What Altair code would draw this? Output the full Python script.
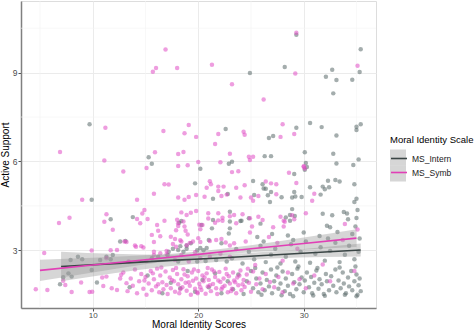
import altair as alt
import pandas as pd

groups = ["MS_Intern", "MS_Symb"]
x_ticks = [10, 20, 30]
y_ticks = [3, 6, 9]
minor_x = [5, 15, 25, 35]
minor_y = [4.5, 7.5, 10.5]

# MS_Symb observations (Moral Identity Score, Active Support)
symb_points = [
    (16.9, 9.78), (16.0, 9.16), (15.7, 9.03), (18.0, 9.16), (21.3, 9.27), (23.2, 8.61), (11.2, 7.14),
    (16.7, 7.03), (19.1, 7.23), (18.7, 6.95), (19.8, 6.83), (21.9, 6.93), (21.6, 6.59), (6.9, 6.32),
    (15.9, 6.31), (18.1, 6.25), (18.6, 6.32), (23.0, 6.26), (11.1, 6.03), (20.0, 5.98), (22.1, 5.97),
    (15.1, 5.78), (18.1, 5.85), (19.0, 5.87), (29.3, 10.35), (29.2, 8.97), (35.1, 9.23), (26.2, 8.09),
    (24.3, 7.0), (24.4, 6.9), (28.0, 7.26), (27.8, 6.83), (29.1, 6.93), (24.8, 6.16), (25.2, 6.16),
    (30.0, 5.82), (24.9, 6.05), (12.9, 5.66), (9.0, 4.71), (6.8, 3.92), (7.8, 4.10), (11.3, 4.22),
    (11.1, 3.96), (11.9, 3.69), (13.0, 3.30), (13.2, 3.28), (5.4, 2.91), (12.3, 3.01), (9.9, 2.99),
    (23.2, 5.64), (23.8, 5.67), (16.8, 5.23), (17.2, 5.22), (21.1, 5.33), (21.2, 5.23), (20.8, 5.11),
    (21.9, 5.15), (21.9, 5.0), (22.4, 5.15), (22.7, 4.88), (22.2, 4.83), (23.6, 5.11), (15.8, 4.91),
    (14.2, 4.71), (18.7, 4.71), (19.1, 4.80), (19.8, 4.87), (20.6, 4.81), (24.0, 4.78), (24.4, 5.2),
    (14.9, 4.36), (14.7, 4.24), (15.2, 4.06), (16.8, 4.0), (16.1, 3.85), (18.4, 4.28), (18.9, 4.19),
    (19.3, 4.27), (19.8, 4.33), (18.0, 4.03), (20.95, 4.25), (20.95, 4.07), (21.9, 4.25), (22.3, 4.10),
    (21.6, 3.93), (23.6, 3.91), (24.2, 4.22), (18.1, 3.82), (18.7, 3.80), (20.1, 3.86),
    (28.6, 5.62), (30.0, 5.84), (30.1, 5.76), (26.4, 5.32), (26.9, 5.26), (27.4, 5.23), (29.3, 5.27),
    (25.0, 4.78), (25.2, 4.67), (25.7, 4.83), (27.4, 4.89), (31.0, 4.91), (30.8, 4.67), (25.7, 4.13),
    (26.1, 4.02), (27.8, 4.13), (28.1, 4.0), (28.9, 4.18), (29.1, 4.05), (28.2, 3.96), (30.2, 4.25),
    (24.9, 4.08), (25.1, 3.80), (27.1, 3.78), (28.1, 3.80), (33.9, 3.89),
    (18.1, 4.78), (14.2, 4.06), (14.5, 3.91), (18.1, 3.91), (18.6, 3.97), (17.9, 3.68), (18.8, 3.66),
    (19.0, 3.53), (20.2, 3.71), (20.4, 3.85), (21.9, 4.01), (22.3, 4.0), (23.0, 4.15), (23.4, 4.19),
    (16.2, 3.66), (15.6, 3.52), (16.4, 3.47), (17.4, 3.46), (17.8, 3.38), (18.3, 3.34), (15.8, 3.28),
    (14.0, 3.16), (14.6, 3.14), (17.6, 3.21), (17.9, 3.12), (18.4, 3.30), (18.9, 3.17), (19.2, 3.25),
    (19.5, 3.30), (20.0, 3.41), (20.2, 3.28), (21.1, 3.31), (21.7, 3.35), (22.2, 3.38), (22.6, 3.26),
    (23.0, 3.16), (23.4, 3.24), (11.7, 3.0), (15.8, 2.84), (16.4, 2.90), (17.0, 2.87),
    (11.3, 2.73), (14.1, 3.12), (14.8, 3.09), (15.8, 2.95), (17.0, 2.98), (18.4, 2.84), (19.7, 2.93),
    (20.2, 2.73), (21.1, 2.78), (22.1, 2.88), (23.0, 2.78), (19.1, 2.62), (17.8, 2.67), (13.4, 2.62),
    (15.1, 2.64), (4.6, 1.68), (5.7, 1.66), (8.0, 1.59), (9.7, 1.59), (9.95, 1.60), (7.4, 1.83),
    (8.9, 1.91), (11.0, 1.79), (11.3, 2.11), (11.8, 1.72), (12.6, 2.05), (13.2, 1.89), (12.3, 1.66),
    (12.7, 2.17), (7.2, 1.97), (10.9, 2.08),
    (24.5, 3.30), (25.4, 2.50), (26.7, 3.45), (28.0, 2.65), (29.4, 3.05), (31.8, 2.52), (33.7, 3.35),
    (35.1, 3.70), (24.9, 3.60), (27.5, 3.25),
    (12.9, 2.25), (13.3, 1.62), (13.6, 2.05), (13.8, 1.80), (14.0, 2.35), (14.2, 1.55), (14.4, 1.95),
    (14.6, 2.20), (14.8, 1.70), (15.0, 2.10), (15.1, 1.50), (15.3, 1.88), (15.5, 2.30), (15.6, 1.65),
    (15.8, 2.02), (16.0, 1.78), (16.1, 2.38), (16.3, 1.58), (16.4, 2.15), (16.6, 1.92), (16.7, 1.68),
    (16.9, 2.28), (17.0, 1.83), (17.1, 1.52), (17.3, 2.08), (17.4, 1.72), (17.6, 2.33), (17.7, 1.95),
    (17.8, 1.60), (18.0, 2.20), (18.1, 1.85), (18.2, 1.55), (18.4, 2.02), (18.5, 1.75), (18.6, 2.36),
    (18.8, 1.90), (18.9, 1.63), (19.0, 2.12), (19.2, 1.80), (19.3, 1.50), (19.4, 2.25), (19.5, 1.97),
    (19.7, 1.70), (19.8, 2.05), (19.9, 1.58), (20.0, 2.30), (20.1, 1.87), (20.3, 1.66), (20.4, 2.15),
    (20.5, 1.95), (20.7, 1.53), (20.8, 2.22), (20.9, 1.78), (21.0, 2.00), (21.2, 1.62), (21.3, 2.35),
    (21.4, 1.86), (21.6, 2.10), (21.7, 1.72), (21.8, 1.52), (22.0, 2.27), (22.1, 1.93), (22.2, 1.68),
    (22.4, 2.05), (22.5, 1.80), (22.6, 2.38), (22.8, 1.58), (22.9, 2.12), (23.0, 1.88), (23.2, 1.70),
    (23.3, 2.25), (23.4, 1.98), (23.6, 1.55), (23.7, 2.08), (23.8, 1.82), (24.0, 2.32), (24.1, 1.65),
    (24.3, 2.00), (24.4, 1.76), (24.6, 2.18), (24.8, 1.90), (25.0, 1.60), (25.2, 2.28), (25.5, 1.85),
    (25.8, 2.05), (26.1, 1.68), (26.4, 2.20), (26.8, 1.93), (27.2, 1.75), (27.6, 2.10), (28.0, 1.58),
    (28.5, 2.25), (29.0, 1.88), (29.6, 2.02), (30.2, 1.72), (31.0, 2.15), (32.5, 1.95), (34.8, 2.30),
    (14.9, 1.98), (15.7, 2.22), (16.2, 1.85), (17.5, 2.00), (18.3, 1.68), (18.7, 2.18), (19.1, 1.92),
    (19.6, 2.35), (20.2, 1.75), (20.6, 2.08), (21.1, 1.82), (21.5, 2.28), (21.9, 1.98), (22.3, 1.75),
    (22.7, 2.20), (23.1, 1.62), (23.5, 1.92), (23.9, 2.15), (24.2, 1.85), (24.7, 2.38), (19.95, 1.55),
    (20.9, 2.40), (17.9, 2.40), (16.5, 2.42),
]

# MS_Intern observations
intern_points = [
    (9.7, 7.26), (22.6, 7.10), (15.3, 6.14), (15.6, 5.92), (22.9, 5.92), (23.2, 5.99), (20.2, 5.75),
    (29.3, 10.28), (35.4, 9.79), (24.9, 8.99), (28.2, 9.19), (32.7, 9.10), (32.1, 8.86), (33.1, 8.75),
    (34.6, 8.76), (35.3, 9.02), (32.8, 8.3), (29.3, 7.14), (30.6, 7.30), (31.7, 7.16), (35.0, 7.17),
    (35.0, 7.06), (35.4, 7.26), (33.1, 6.88), (26.7, 6.79), (27.1, 6.86), (26.3, 6.18), (26.9, 6.18),
    (30.1, 6.31), (32.8, 6.26), (35.2, 6.07), (33.1, 5.93), (34.7, 5.88), (30.2, 5.95),
    (9.9, 4.71), (11.7, 4.05), (12.6, 3.30), (7.9, 2.67), (8.6, 2.78), (9.0, 2.70), (10.7, 2.67),
    (11.3, 2.78), (11.7, 2.70), (9.9, 2.33), (7.7, 2.22), (8.0, 2.11), (7.2, 2.09), (6.9, 1.85),
    (10.4, 1.91), (19.7, 5.26), (21.4, 4.74), (22.8, 4.90), (23.0, 4.30), (13.8, 4.12), (20.3, 3.85),
    (24.0, 3.99), (24.8, 4.08), (18.2, 3.93), (30.3, 5.81), (30.1, 5.72), (29.1, 5.58), (25.2, 5.34),
    (26.1, 5.23), (26.2, 5.09), (26.4, 5.08), (32.3, 5.35), (33.0, 5.37), (33.4, 5.32), (31.8, 5.15),
    (32.4, 5.13), (32.0, 5.06), (34.8, 5.23), (30.6, 5.13), (29.1, 4.97), (27.9, 4.79), (28.9, 4.78),
    (29.2, 4.82), (29.8, 4.80), (25.3, 4.87), (26.9, 4.97), (26.6, 4.86), (26.8, 4.63), (31.6, 4.88),
    (35.0, 4.74), (34.8, 4.63), (28.9, 4.39), (28.7, 4.19), (29.15, 4.16), (28.3, 4.11), (31.8, 4.23),
    (32.7, 4.18), (33.8, 4.29), (34.1, 4.24), (34.2, 4.05), (35.1, 4.36), (35.0, 4.09), (24.1, 4.0),
    (25.9, 3.90), (28.7, 4.0), (32.2, 3.83), (32.5, 3.78), (34.9, 3.80), (23.0, 3.97), (18.4, 3.99),
    (21.0, 3.35), (19.3, 3.24), (20.2, 3.08), (20.8, 3.08), (17.1, 2.84), (18.1, 3.01), (18.3, 3.14),
    (18.9, 3.05), (17.6, 3.05), (22.2, 3.24), (22.9, 3.57), (23.0, 3.74), (21.4, 4.02), (21.3, 3.74),
    (13.1, 3.31), (18.9, 3.16), (17.2, 2.95), (18.6, 2.95), (19.9, 3.0), (20.5, 3.0), (15.6, 2.73),
    (16.2, 2.78), (18.1, 2.62), (19.9, 2.62), (20.7, 2.64), (21.7, 2.67), (22.7, 2.62), (23.2, 2.73),
    (23.6, 3.04), (11.9, 2.84),
    (24.2, 2.55), (24.8, 2.95), (25.3, 2.70), (25.9, 3.15), (26.4, 2.60), (26.9, 2.85), (27.3, 3.05),
    (27.8, 2.55), (28.3, 2.78), (28.8, 3.20), (29.2, 2.62), (29.7, 2.95), (30.2, 3.30), (30.6, 2.58),
    (31.1, 2.88), (31.6, 3.10), (32.0, 2.65), (32.5, 2.98), (33.0, 3.25), (33.4, 2.60), (33.9, 2.85),
    (34.3, 3.15), (34.8, 2.70), (35.2, 2.95), (35.3, 3.40), (25.6, 3.45), (27.0, 3.55), (28.5, 3.50),
    (30.0, 3.60), (31.5, 3.48), (33.2, 3.62), (34.6, 3.55), (26.2, 3.30), (29.0, 3.35), (32.3, 3.40),
    (13.5, 1.75), (15.2, 2.15), (16.6, 1.55), (17.4, 1.90),
    (18.3, 1.72), (19.0, 2.30), (19.7, 1.60), (20.4, 2.00), (21.0, 1.75), (21.6, 2.22), (22.2, 1.55),
    (22.8, 1.95), (23.3, 1.68), (23.8, 2.18), (24.3, 1.52), (24.6, 1.95), (25.0, 2.30), (25.2, 1.72),
    (25.5, 2.05), (25.7, 1.58), (25.9, 1.88), (26.1, 2.25), (26.3, 1.65), (26.5, 2.00), (26.7, 1.78),
    (26.9, 2.35), (27.0, 1.55), (27.2, 1.95), (27.4, 2.15), (27.6, 1.70), (27.8, 1.88), (28.0, 2.28),
    (28.2, 1.62), (28.3, 2.05), (28.5, 1.80), (28.7, 1.52), (28.9, 2.20), (29.1, 1.92), (29.3, 1.68),
    (29.4, 2.38), (29.6, 1.85), (29.8, 2.08), (30.0, 1.58), (30.1, 1.98), (30.3, 2.25), (30.5, 1.75),
    (30.7, 2.10), (30.8, 1.55), (31.0, 1.90), (31.2, 2.32), (31.4, 1.70), (31.5, 2.02), (31.7, 1.85),
    (31.9, 1.52), (32.1, 2.20), (32.2, 1.95), (32.4, 1.65), (32.6, 2.12), (32.8, 1.80), (33.0, 2.35),
    (33.1, 1.58), (33.3, 1.98), (33.5, 1.72), (33.7, 2.25), (33.8, 1.88), (34.0, 1.55), (34.2, 2.08),
    (34.3, 1.78), (34.5, 2.30), (34.6, 1.65), (34.8, 1.95), (35.0, 2.18), (35.1, 1.50), (35.2, 1.82),
    (35.3, 2.05), (35.4, 1.62), (26.0, 1.50), (27.9, 1.48), (29.0, 1.45), (30.9, 1.47), (32.0, 1.46),
    (33.9, 1.50), (35.0, 1.45), (25.4, 2.40), (27.5, 2.42), (29.5, 2.45), (31.3, 2.40), (33.4, 2.42),
    (34.9, 2.45),
]

# Fitted lines with 95% confidence bands
intern_fit_x = [7, 12, 17, 22, 27, 32, 35.4]
intern_fit_y = [2.45, 2.55, 2.65, 2.74, 2.84, 2.94, 3.01]
intern_lo = [1.95, 2.22, 2.45, 2.61, 2.72, 2.77, 2.79]
intern_hi = [2.95, 2.88, 2.85, 2.87, 2.96, 3.11, 3.23]

symb_fit_x = [5, 10, 15, 20, 25, 30, 35]
symb_fit_y = [2.32, 2.50, 2.68, 2.86, 3.05, 3.23, 3.41]
symb_lo = [1.96, 2.25, 2.53, 2.76, 2.93, 3.03, 3.11]
symb_hi = [2.68, 2.75, 2.83, 2.96, 3.17, 3.43, 3.71]

pts = pd.DataFrame(
    [{"x": x, "y": y, "g": "MS_Intern"} for x, y in intern_points]
    + [{"x": x, "y": y, "g": "MS_Symb"} for x, y in symb_points]
)
fit = pd.DataFrame(
    [{"x": a, "y": b, "lo": c, "hi": d, "g": "MS_Intern"}
     for a, b, c, d in zip(intern_fit_x, intern_fit_y, intern_lo, intern_hi)]
    + [{"x": a, "y": b, "lo": c, "hi": d, "g": "MS_Symb"}
       for a, b, c, d in zip(symb_fit_x, symb_fit_y, symb_lo, symb_hi)]
)

FONT = "Liberation Sans"
xs = alt.Scale(domain=[3.2, 36.85], nice=False, zero=False)
ys = alt.Scale(domain=[1.05, 11.42], nice=False, zero=False)

x_axis = alt.Axis(values=x_ticks, title="Moral Identity Scores", grid=True, gridColor="#ebebeb",
                  labelFont=FONT, labelFontSize=8, labelColor="#4d4d4d", tickColor="#4d4d4d",
                  tickSize=3, labelPadding=0, titleFont=FONT, titleFontSize=10,
                  titleFontWeight="normal", titleColor="#000", titlePadding=0,
                  domainColor="#808080", domainWidth=1.5)
y_axis = alt.Axis(values=y_ticks, title="Active Support", grid=True, gridColor="#ebebeb",
                  labelFont=FONT, labelFontSize=8.5, labelColor="#4d4d4d", tickColor="#4d4d4d",
                  tickSize=3, labelPadding=1, titleFont=FONT, titleFontSize=10,
                  titleFontWeight="normal", titleColor="#000", titlePadding=2,
                  domainColor="#808080", domainWidth=1.5)

minor_v = alt.Chart(pd.DataFrame({"x": minor_x})).mark_rule(color="#f4f4f4", strokeWidth=0.6).encode(
    x=alt.X("x:Q", scale=xs, axis=x_axis))
minor_h = alt.Chart(pd.DataFrame({"y": minor_y})).mark_rule(color="#f4f4f4", strokeWidth=0.6).encode(
    y=alt.Y("y:Q", scale=ys, axis=y_axis))

points = alt.Chart(pts).mark_circle(size=20, opacity=0.55).encode(
    x=alt.X("x:Q", scale=xs, axis=x_axis),
    y=alt.Y("y:Q", scale=ys, axis=y_axis),
    color=alt.Color("g:N", scale=alt.Scale(domain=groups, range=["#5a6a6a", "#e04cc4"]), legend=None),
)

bands = alt.Chart(fit).mark_area(opacity=0.4, interpolate="monotone").encode(
    x=alt.X("x:Q", scale=xs, axis=x_axis),
    y=alt.Y("lo:Q", scale=ys, axis=y_axis),
    y2="hi:Q",
    fill=alt.Fill("g:N", scale=alt.Scale(domain=groups, range=["#999999", "#999999"]),
                  legend=alt.Legend(title="Moral Identity Scale", orient="none", legendX=369, legendY=134,
                                    symbolType="square", symbolSize=256, symbolOpacity=0.4,
                                    symbolStrokeWidth=0, labelExpr="''", rowPadding=0,
                                    titleFont=FONT, titleFontSize=9.5, titleFontWeight="normal",
                                    titleColor="#000", titleLimit=200, labelFont=FONT, labelFontSize=9,
                                    titlePadding=5)),
)

lines = alt.Chart(fit).mark_line(strokeWidth=1.6).encode(
    x=alt.X("x:Q", scale=xs, axis=x_axis),
    y=alt.Y("y:Q", scale=ys, axis=y_axis),
    stroke=alt.Stroke("g:N", scale=alt.Scale(domain=groups, range=["#3a4545", "#e13fb6"]),
                      legend=alt.Legend(title=" ", orient="none", legendX=369, legendY=134,
                                        symbolType="stroke", symbolSize=256, symbolStrokeWidth=1.6,
                                        rowPadding=0, titleFont=FONT, titleFontSize=9.5,
                                        titleFontWeight="normal", labelFont=FONT, labelFontSize=8.5,
                                        labelColor="#1a1a1a", titlePadding=5)),
)

chart = alt.layer(minor_v, minor_h, points, bands, lines).resolve_scale(
    fill="independent", stroke="independent", color="independent"
).properties(
    width=355, height=307,
    autosize=alt.AutoSizeParams(type="none"),
    padding={"left": 21, "top": 1, "right": 98, "bottom": 24},
).configure_view(stroke="#b0b0b0", strokeWidth=1).configure(background="white")

chart.save("out.html", embed_options={"renderer": "svg", "actions": False})
